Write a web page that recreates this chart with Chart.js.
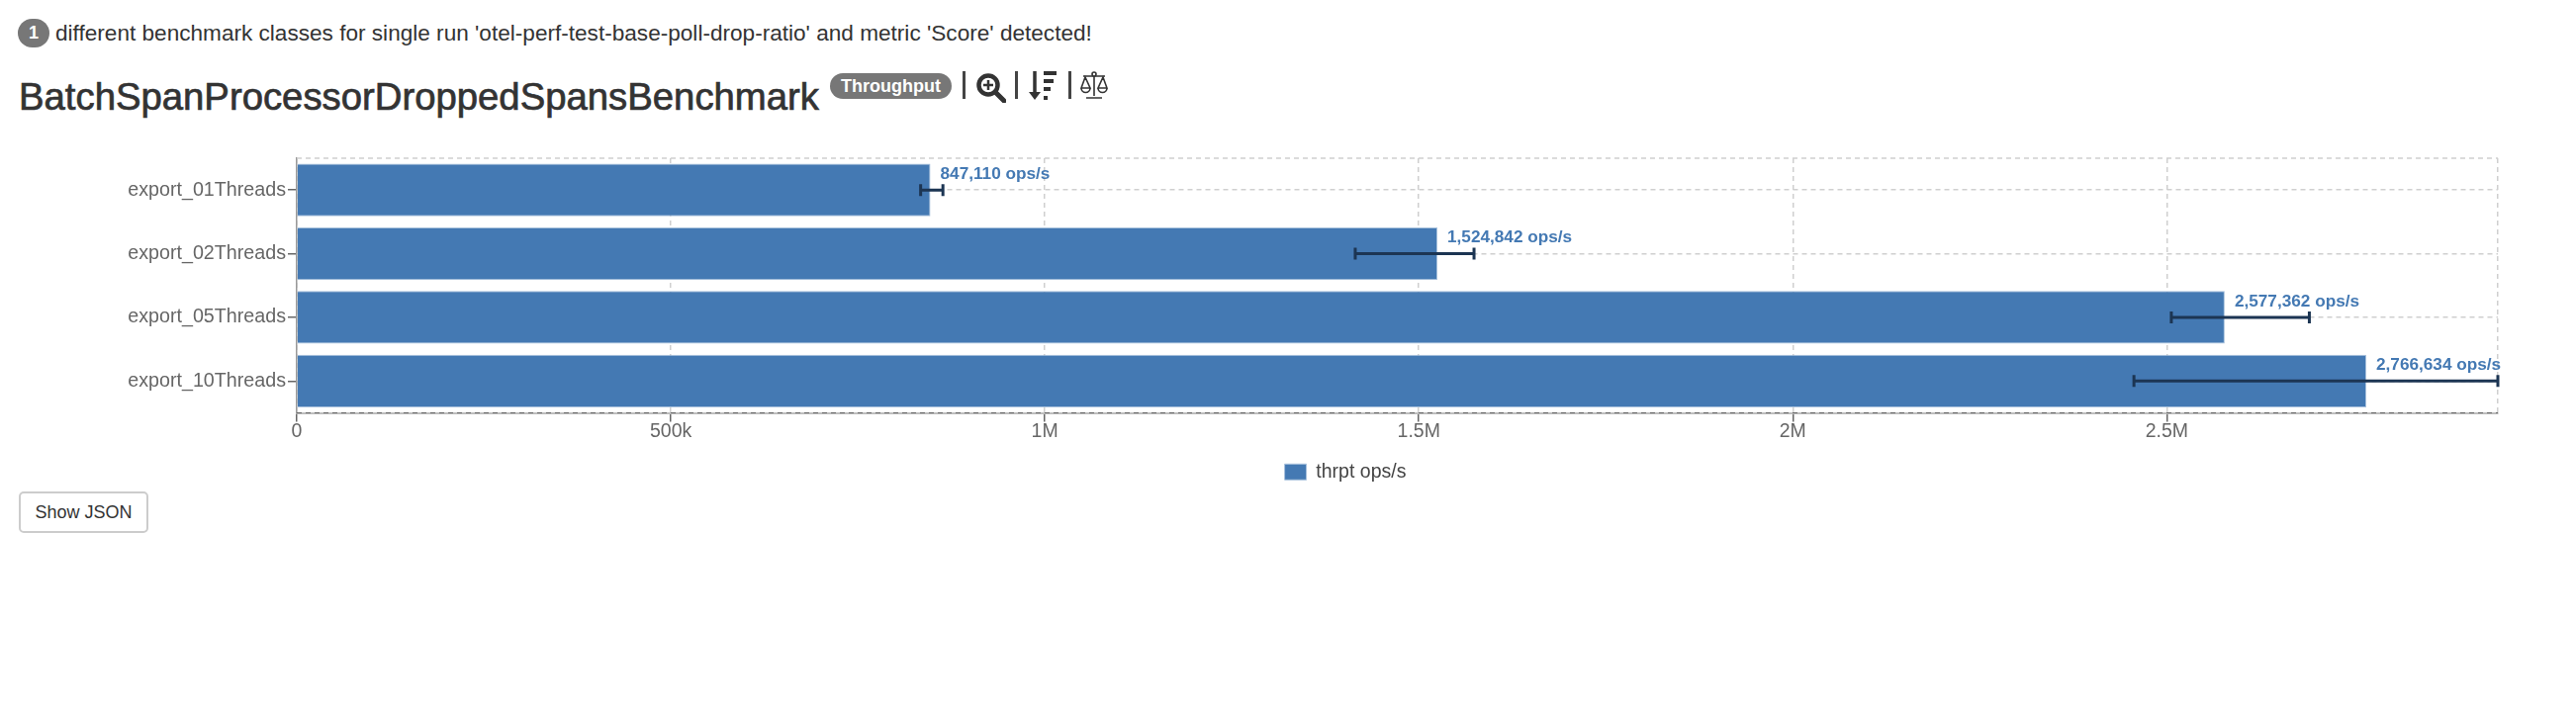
<!DOCTYPE html>
<html>
<head>
<meta charset="utf-8">
<title>BatchSpanProcessorDroppedSpansBenchmark</title>
<script src="https://cdn.jsdelivr.net/npm/chart.js@4"></script>
<style>
  html, body { margin: 0; padding: 0; background: #fff; }
  body { width: 2604px; height: 718px; position: relative; overflow: hidden; font-family: "Liberation Sans", sans-serif; color: #333; }
  .abs { position: absolute; white-space: nowrap; }
  #countBadge { left: 18px; top: 19px; width: 32px; height: 29px; border-radius: 15px; background: #777; color: #fff; font-weight: bold; font-size: 18px; line-height: 29px; text-align: center; }
  #intro { left: 56px; top: 20px; font-size: 22.6px; line-height: 28px; color: #333; }
  #title { left: 19px; top: 76px; font-size: 38.3px; line-height: 44px; color: #333; -webkit-text-stroke: 0.7px #333; }
  #typeBadge { left: 839px; top: 74px; width: 123px; height: 26px; border-radius: 13px; background: #777; color: #fff; font-weight: bold; font-size: 18px; line-height: 26px; text-align: center; }
  .sep { position: absolute; top: 72px; width: 3px; height: 28px; background: #444; }
  #chartWrap { position: absolute; left: 116px; top: 140px; width: 2488px; height: 368px; }
  #showJson { left: 19px; top: 497px; width: 131px; height: 42px; box-sizing: border-box; border: 2px solid #ccc; border-radius: 5px; background: #fff; color: #333; font-family: inherit; font-size: 18px; padding: 0; }
</style>
</head>
<body>
<div class="abs" id="countBadge">1</div>
<div class="abs" id="intro">different benchmark classes for single run 'otel-perf-test-base-poll-drop-ratio' and metric 'Score' detected!</div>
<div class="abs" id="title">BatchSpanProcessorDroppedSpansBenchmark</div>
<div class="abs" id="typeBadge">Throughput</div>
<div class="sep" style="left:973px"></div>
<div class="sep" style="left:1026px"></div>
<div class="sep" style="left:1080px"></div>
<svg class="abs" style="left:987px;top:74px" width="30" height="30" viewBox="0 0 30 30">
  <circle cx="12" cy="12" r="9.5" fill="none" stroke="#333" stroke-width="4.5"/>
  <path d="M19 19 L28 28" stroke="#333" stroke-width="5" stroke-linecap="round"/>
  <path d="M7 12 H17 M12 7 V17" stroke="#333" stroke-width="2.5"/>
</svg>
<svg class="abs" style="left:1040px;top:72px" width="28" height="31" viewBox="0 0 28 31">
  <path d="M6 0 V26" stroke="#333" stroke-width="3.5"/>
  <path d="M0 21 L6 29 L12 21 Z" fill="#333"/>
  <path d="M15 2 H28 M15 10 H25 M15 18 H22 M15 27 H19" stroke="#333" stroke-width="4"/>
</svg>
<svg class="abs" style="left:1092px;top:72px" width="28" height="29" viewBox="0 0 28 29" fill="none" stroke="#333" stroke-width="1.6">
  <path d="M14 3 V25 M6 27 H22 M3 5 H25"/>
  <circle cx="14" cy="3" r="2" fill="#fff"/>
  <path d="M5 6 L1 17 H10 Z M1 17 A4.5 4.5 0 0 0 10 17 M23 6 L18 17 H27 Z M18 17 A4.5 4.5 0 0 0 27 17"/>
</svg>
<div id="chartWrap"><canvas id="chart"></canvas></div>
<button class="abs" id="showJson">Show JSON</button>

<script>
const categories = ["export_01Threads", "export_02Threads", "export_05Threads", "export_10Threads"];
const scores = [847110, 1524842, 2577362, 2766634];
const errorLow = [834000, 1415000, 2506000, 2456000];
const errorHigh = [863800, 1573800, 2690500, 2942500];
const seriesName = "thrpt ops/s";
const unit = "ops/s";
const axisMax = 2942500;
const xTicks = [0, 500000, 1000000, 1500000, 2000000, 2500000, 2942500];
const xTickLabels = ["0", "500k", "1M", "1.5M", "2M", "2.5M", ""];

const BLUE = "#4479b3";
const GRID = "#cfcfcf";
const AXIS = "#666";

// plot frame, error whiskers and value labels are not in Chart.js core
const extrasPlugin = {
  id: "extras",
  afterLayout(chart){
    // legend sits centered under the plot, not the canvas
    chart.legend.left += 39.5;
    chart.legend.right += 39.5;
  },
  beforeDatasetsDraw(chart){
    const { ctx, chartArea: a } = chart;
    ctx.save();
    ctx.strokeStyle = GRID;
    ctx.lineWidth = 1.5;
    ctx.setLineDash([5, 4]);
    ctx.beginPath();
    ctx.moveTo(a.left, a.top);
    ctx.lineTo(a.right, a.top);
    ctx.stroke();
    ctx.restore();
  },
  afterDatasetsDraw(chart){
    const { ctx, scales, chartArea: a } = chart;
    ctx.save();
    ctx.strokeStyle = AXIS;
    ctx.lineWidth = 1.2;
    ctx.setLineDash([5, 4]);
    ctx.beginPath();
    ctx.moveTo(a.left, a.bottom);
    ctx.lineTo(a.right, a.bottom);
    ctx.stroke();
    ctx.setLineDash([]);
    categories.forEach((c, i) => {
      const y = scales.y.getPixelForValue(i);
      const lo = scales.x.getPixelForValue(errorLow[i]);
      const hi = scales.x.getPixelForValue(errorHigh[i]);
      ctx.strokeStyle = "#1c3553";
      ctx.lineWidth = 3;
      ctx.beginPath();
      ctx.moveTo(lo, y);
      ctx.lineTo(hi, y);
      ctx.moveTo(lo, y - 6);
      ctx.lineTo(lo, y + 6);
      ctx.moveTo(hi, y - 6);
      ctx.lineTo(hi, y + 6);
      ctx.stroke();
      ctx.fillStyle = BLUE;
      ctx.font = "bold 17.2px 'Liberation Sans'";
      ctx.textAlign = "left";
      ctx.textBaseline = "middle";
      ctx.fillText(scores[i].toLocaleString("en-US") + " " + unit, scales.x.getPixelForValue(scores[i]) + 10, y - 16);
    });
    ctx.restore();
  }
};

new Chart(document.getElementById("chart").getContext("2d"), {
  type: "bar",
  plugins: [extrasPlugin],
  data: {
    labels: categories,
    datasets: [{
      label: seriesName,
      data: scores,
      backgroundColor: BLUE,
      borderColor: "#a9c2dd",
      borderWidth: 1,
      barPercentage: 0.92,
      categoryPercentage: 0.9
    }]
  },
  options: {
    indexAxis: "y",
    responsive: true,
    maintainAspectRatio: false,
    animation: false,
    layout: { padding: { top: 20, right: 79, bottom: 11, left: 0 } },
    plugins: {
      tooltip: { enabled: false },
      legend: {
        position: "bottom",
        labels: {
          boxWidth: 22,
          boxHeight: 16,
          padding: 6,
          color: "#444",
          font: { family: "'Liberation Sans'", size: 19.5 }
        }
      }
    },
    scales: {
      x: {
        type: "linear",
        min: 0,
        max: axisMax,
        afterFit(scale){ scale.height = 44; },
        afterBuildTicks(scale){ scale.ticks = xTicks.map(v => ({ value: v })); },
        border: { color: "#bdbdbd", width: 2, dash: [5, 4] },
        grid: {
          color: GRID,
          lineWidth: 1.5,
          tickColor: ctx => ctx.tick && ctx.tick.value === axisMax ? "transparent" : AXIS,
          tickLength: 9,
          tickBorderDash: []
        },
        ticks: {
          maxRotation: 0,
          autoSkip: false,
          color: "#666",
          padding: -2,
          font: { family: "'Liberation Sans'", size: 19.5 },
          callback: (v, i) => xTickLabels[i]
        }
      },
      y: {
        afterFit(scale){ scale.width = 184; },
        border: { color: "#999", width: 1.5, dash: [5, 4] },
        grid: {
          color: GRID,
          lineWidth: 1.5,
          offset: false,
          tickColor: AXIS,
          tickLength: 9,
          tickBorderDash: []
        },
        ticks: {
          color: "#666",
          padding: 2,
          font: { family: "'Liberation Sans'", size: 19.7 }
        }
      }
    }
  }
});
</script>
</body>
</html>
